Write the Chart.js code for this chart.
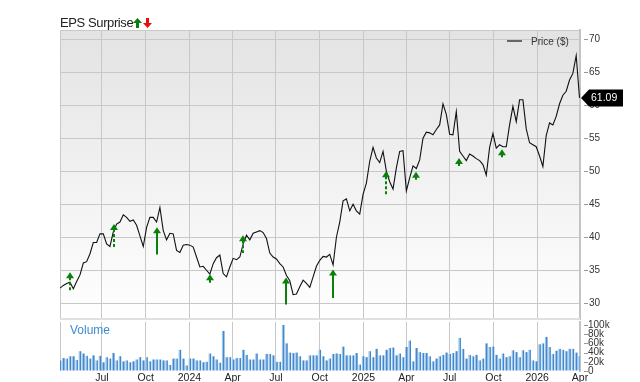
<!DOCTYPE html>
<html>
<head>
<meta charset="utf-8">
<script src="https://cdn.jsdelivr.net/npm/chart.js@4.4.1/dist/chart.umd.min.js"></script>
<style>
  body { margin: 0; background: #fff; font-family: "Liberation Sans", Arial, sans-serif; }
  #wrap { position: relative; width: 640px; height: 382px; overflow: hidden; }
  canvas { position: absolute; left: 0; }
  #priceCanvas { top: 0; }
  #volCanvas { top: 308px; }
  .title { position: absolute; left: 60px; top: 16px; font-size: 13px; letter-spacing: -0.4px; color: #222; line-height: 14px; }
  .title svg { vertical-align: -1px; }
  .legend { position: absolute; left: 507px; top: 36px; font-size: 10px; color: #333; line-height: 12px; }
  .legend span { display: inline-block; width: 15px; height: 2px; background: #666; vertical-align: 3px; margin-right: 9px; }
  .sep { position: absolute; left: 60px; top: 318px; width: 520px; height: 2px; background: #e0e0e0; }
  .vol { position: absolute; left: 70px; top: 323px; font-size: 12px; color: #3d8cd0; line-height: 14px; }
</style>
</head>
<body>
<div id="wrap">
  <canvas id="priceCanvas" width="640" height="334"></canvas>
  <div class="sep"></div>
  <canvas id="volCanvas" width="640" height="77"></canvas>
  <div class="title">EPS Surprise<svg width="9" height="10" viewBox="0 0 9 10"><path d="M4.5 0 L9 5 L6 5 L6 10 L3 10 L3 5 L0 5 Z" fill="#0a7d0a"/></svg><svg width="11" height="10" viewBox="-1 0 11 10"><path d="M4.5 10 L9 5 L6 5 L6 0 L3 0 L3 5 L0 5 Z" fill="#e8100c"/></svg></div>
  <div class="legend"><span></span>Price ($)</div>
  <div class="vol">Volume</div>
</div>
<script>
  // weekly closes starting 2023-04-04
  const startDate = "2023-04-04";
  const endDate = "2026-04-01";
  const priceValues = [
    32.3, 32.7, 33.0, 33.2, 32.2, 33.3, 34.3, 36.1, 36.3, 37.5,
    39.2, 39.2, 40.5, 40.5, 39.0, 38.6, 40.8, 42.0, 42.3, 43.4,
    43.0, 42.4, 42.6, 41.8, 40.2, 38.6, 41.5, 43.0, 43.0, 42.3,
    44.5, 41.0, 39.6, 40.6, 40.5, 38.0, 37.7, 38.8, 38.9, 38.8,
    38.5, 37.0, 35.5, 35.6, 35.0, 34.4, 36.0, 36.9, 37.3, 34.5,
    34.0, 35.5, 36.8, 36.6, 37.0, 39.0, 40.3, 39.6, 40.6, 40.8,
    41.0, 40.7, 39.8, 37.6, 37.0, 36.7, 36.0, 35.5, 34.2, 33.4,
    31.3, 31.4, 32.5, 33.5, 33.0, 32.4, 34.0, 35.6, 36.5, 37.1,
    37.0, 37.4, 35.8, 40.0, 42.3, 45.5, 45.8, 44.0, 45.0, 44.0,
    43.5, 46.5, 48.2, 51.5, 53.6, 52.0, 51.3, 53.0, 50.0, 48.4,
    47.3, 50.5, 53.0, 53.1, 47.0, 49.0, 50.8, 50.4, 51.7, 55.0,
    55.9, 55.8, 55.5, 56.3, 57.0, 60.2, 58.6, 55.6, 55.5, 59.0,
    53.0, 52.3, 51.6, 52.6, 52.3, 51.9, 51.6, 51.0, 49.4, 53.6,
    55.7, 53.5, 54.0, 53.7, 53.7, 57.0, 59.8, 57.5, 60.8, 60.8,
    56.4, 54.3, 54.0, 53.7, 52.3, 50.7, 55.4, 57.3, 57.0, 58.3,
    60.2, 61.5, 62.1, 63.8, 64.8, 67.5, 61.09
  ];
  // weekly volume, thousands
  const volumeK = [
    23, 28, 27, 32, 32, 24, 43, 38, 33, 27,
    34, 23, 33, 19, 30, 27, 39, 23, 32, 21,
    23, 19, 21, 25, 30, 23, 30, 21, 25, 25,
    25, 23, 23, 13, 27, 27, 46, 27, 12, 27,
    27, 23, 23, 19, 20, 38, 32, 25, 18, 87,
    30, 30, 25, 28, 28, 46, 35, 25, 25, 38,
    25, 25, 37, 37, 34, 20, 20, 100, 60, 40,
    39, 40, 32, 23, 23, 34, 34, 34,
    46, 32, 23, 27, 37, 38, 37, 53, 34, 34,
    34, 39, 14, 32, 30, 43, 30, 48, 34, 34,
    46, 50, 51, 34, 38, 30, 52, 66, 21, 50,
    41, 39, 39, 32, 21, 27, 32, 35, 40, 37,
    39, 43, 72, 48, 27, 35, 32, 35, 23, 27,
    60, 52, 53, 35, 27, 38, 30, 32, 45, 41,
    30, 45, 41, 46, 23, 21, 58, 60, 74, 52,
    37, 44, 48, 46, 43, 48, 48, 40, 32
  ];
  const xTickDates = ["2023-07-01", "2023-10-01", "2024-01-01", "2024-04-01", "2024-07-01", "2024-10-01",
    "2025-01-01", "2025-04-01", "2025-07-01", "2025-10-01", "2026-01-01", "2026-04-01"];
  const xTickLabels = ["Jul", "Oct", "2024", "Apr", "Jul", "Oct", "2025", "Apr", "Jul", "Oct", "2026", "Apr"];
  const priceTicks = [30, 35, 40, 45, 50, 55, 60, 65, 70];
  const volumeTicks = [0, 20, 40, 60, 80, 100];
  const volumeTickLabels = ["0", "20k", "40k", "60k", "80k", "100k"];

  // EPS surprise arrows: date, price at arrow head, price at tail
  const epsDates = ["2023-04-26", "2023-07-26", "2023-10-25", "2024-02-13", "2024-04-23", "2024-07-23",
    "2024-10-28", "2025-02-17", "2025-04-21", "2025-07-21", "2025-10-20"];
  const epsHead = [34.7, 42.0, 41.5, 34.4, 40.3, 33.9, 35.1, 50.0, 49.9, 52.0, 53.3];
  const epsTail = [31.7, 38.4, 37.4, 33.1, 37.6, 29.8, 30.8, 46.5, 48.7, 50.8, 52.3];
  const epsDashed = [true, true, false, false, true, false, false, true, false, false, false];

  const DAY = 86400000;
  const dayOf = (s) => (Date.parse(s) - Date.parse(startDate)) / DAY;
  const maxDay = dayOf(endDate);
  const tickDays = xTickDates.map(dayOf);

  const priceData = priceValues.map((v, i) => ({ x: i * 7, y: v }));
  const volumeData = volumeK.map((v, i) => ({ x: i * 7, y: v }));

  const GRID = "#c8c8c8";
  const FONT = "'Liberation Sans', Arial, sans-serif";

  function fixedWidth(scale) { scale.width = 60; }

  // light-left / dark-right shading on each volume bar
  function volumeFill(context) {
    const x = context.chart.scales.x;
    if (context.type !== "data" || !x) return "#5596d4";
    const px = x.getPixelForValue(context.raw.x);
    if (!isFinite(px)) return "#5596d4";
    const g = context.chart.ctx.createLinearGradient(px - 1.3, 0, px + 1.3, 0);
    g.addColorStop(0, "#a6ccee");
    g.addColorStop(0.45, "#8dbde8");
    g.addColorStop(0.55, "#4689cc");
    g.addColorStop(1, "#3f84c9");
    return g;
  }

  const panelBackground = {
    id: "panelBackground",
    beforeDraw(chart, args, opts) {
      const { ctx, chartArea: a } = chart;
      ctx.save();
      if (opts.gradient) {
        const g = ctx.createLinearGradient(0, a.top, 0, a.bottom);
        g.addColorStop(0, "#e3e3e3");
        g.addColorStop(1, "#ffffff");
        ctx.fillStyle = g;
      } else {
        ctx.fillStyle = "#ffffff";
      }
      ctx.fillRect(a.left, a.top, a.right - a.left, a.bottom - a.top);
      ctx.strokeStyle = GRID;
      ctx.lineWidth = 1;
      ctx.beginPath();
      ctx.moveTo(a.left + 0.5, a.top);
      ctx.lineTo(a.left + 0.5, a.bottom);
      if (opts.gradient) {
        ctx.moveTo(a.left, a.top + 0.5);
        ctx.lineTo(a.right, a.top + 0.5);
      }
      ctx.stroke();
      ctx.restore();
    },
    afterDraw(chart) {
      // small tick dashes right of the axis
      const { ctx, chartArea: a, scales: { y } } = chart;
      ctx.save();
      ctx.strokeStyle = "#999";
      ctx.lineWidth = 1;
      ctx.beginPath();
      y.ticks.forEach((t) => {
        const py = Math.round(y.getPixelForValue(t.value)) + 0.5;
        ctx.moveTo(a.right + 4, py);
        ctx.lineTo(a.right + 8, py);
      });
      ctx.stroke();
      ctx.restore();
    }
  };

  const epsArrows = {
    id: "epsArrows",
    afterDatasetsDraw(chart) {
      const { ctx, scales: { x, y } } = chart;
      ctx.save();
      ctx.fillStyle = "#0a820a";
      ctx.strokeStyle = "#0a820a";
      epsDates.forEach((d, i) => {
        const px = Math.round(x.getPixelForValue(dayOf(d)));
        const top = y.getPixelForValue(epsHead[i]);
        const bottom = y.getPixelForValue(epsTail[i]);
        ctx.lineWidth = 2;
        ctx.setLineDash(epsDashed[i] ? [3, 2] : []);
        ctx.beginPath();
        ctx.moveTo(px, top + 5);
        ctx.lineTo(px, Math.max(bottom, top + 8));
        ctx.stroke();
        ctx.setLineDash([]);
        ctx.beginPath();
        ctx.moveTo(px, top);
        ctx.lineTo(px - 4, top + 6);
        ctx.lineTo(px + 4, top + 6);
        ctx.closePath();
        ctx.fill();
      });
      ctx.restore();
    },
    afterDraw(chart) {
      // last price tag
      const { ctx, chartArea: a, scales: { y } } = chart;
      const last = priceValues[priceValues.length - 1];
      const py = y.getPixelForValue(last);
      const left = a.right + 1;
      ctx.save();
      ctx.fillStyle = "#000";
      ctx.beginPath();
      ctx.moveTo(left, py);
      ctx.lineTo(left + 8, py - 8.5);
      ctx.lineTo(left + 42, py - 8.5);
      ctx.lineTo(left + 42, py + 8.5);
      ctx.lineTo(left + 8, py + 8.5);
      ctx.closePath();
      ctx.fill();
      ctx.fillStyle = "#fff";
      ctx.font = "10.5px " + FONT;
      ctx.textBaseline = "middle";
      ctx.fillText(last.toFixed(2), left + 10, py + 0.5);
      ctx.restore();
    }
  };

  new Chart(document.getElementById("priceCanvas"), {
    type: "line",
    data: {
      datasets: [{
        label: "Price ($)",
        data: priceData,
        borderColor: "#111",
        borderWidth: 1.1,
        pointRadius: 0,
        tension: 0
      }]
    },
    options: {
      responsive: false,
      animation: false,
      devicePixelRatio: 1,
      layout: { padding: { top: 30, bottom: 3, left: 60 } },
      plugins: { legend: { display: false }, tooltip: { enabled: false }, panelBackground: { gradient: true } },
      scales: {
        x: {
          type: "linear",
          min: 0,
          max: maxDay,
          afterBuildTicks: (s) => { s.ticks = tickDays.map((v) => ({ value: v })); },
          afterFit: (s) => { s.height = 0; },
          ticks: { display: false },
          grid: { color: GRID, drawTicks: false },
          border: { display: false }
        },
        y: {
          position: "right",
          min: 27.62,
          max: 71.37,
          afterBuildTicks: (s) => { s.ticks = priceTicks.map((v) => ({ value: v })); },
          afterFit: fixedWidth,
          ticks: { autoSkip: false, padding: 9, color: "#333", font: { size: 10, family: FONT } },
          grid: { color: GRID, drawTicks: false },
          border: { color: "#c4c4c4", width: 2 }
        }
      }
    },
    plugins: [panelBackground, epsArrows]
  });

  new Chart(document.getElementById("volCanvas"), {
    type: "bar",
    data: {
      datasets: [{
        label: "Volume",
        data: volumeData,
        backgroundColor: volumeFill,
        barPercentage: 0.78,
        categoryPercentage: 1
      }]
    },
    options: {
      responsive: false,
      animation: false,
      devicePixelRatio: 1,
      layout: { padding: { top: 12, left: 60 } },
      plugins: { legend: { display: false }, tooltip: { enabled: false }, panelBackground: { gradient: false } },
      scales: {
        x: {
          type: "linear",
          min: 0,
          max: maxDay,
          offset: false,
          afterBuildTicks: (s) => { s.ticks = tickDays.map((v) => ({ value: v })); },
          afterFit: (s) => { s.height = 12; },
          ticks: {
            autoSkip: false,
            maxRotation: 0,
            padding: 1,
            color: "#222",
            font: { size: 10.5, family: FONT },
            callback: (v, i) => xTickLabels[i]
          },
          grid: { color: GRID, drawTicks: false, offset: false },
          border: { display: false }
        },
        y: {
          position: "right",
          min: 0,
          max: 106.4,
          afterBuildTicks: (s) => { s.ticks = volumeTicks.map((v) => ({ value: v })); },
          afterFit: fixedWidth,
          ticks: {
            autoSkip: false,
            padding: 8,
            color: "#333",
            font: { size: 10, family: FONT },
            callback: (v, i) => volumeTickLabels[i]
          },
          grid: { display: true, drawOnChartArea: false, drawTicks: false },
          border: { color: "#c4c4c4", width: 2 }
        }
      }
    },
    plugins: [panelBackground]
  });
</script>
</body>
</html>
